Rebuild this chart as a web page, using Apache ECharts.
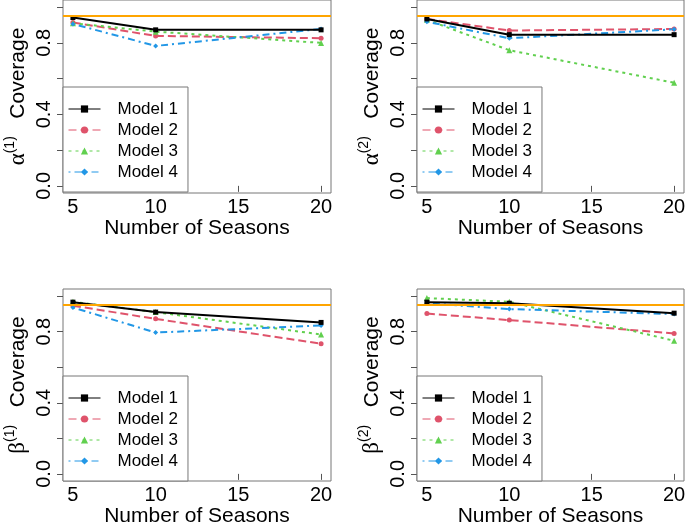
<!DOCTYPE html>
<html>
<head>
<meta charset="utf-8">
<script src="https://cdn.jsdelivr.net/npm/echarts@6/dist/echarts.min.js"></script>
<style>
html,body{margin:0;padding:0;background:#fff;}
#chart{width:685px;height:522px;}
</style>
</head>
<body>
<div id="chart"></div>
<script>
// ---- data ----
const seasons = [5, 10, 20];
const modelNames = ['Model 1', 'Model 2', 'Model 3', 'Model 4'];
const xTicks = [5, 10, 15, 20];
const yTicks = [0, 0.2, 0.4, 0.6, 0.8, 1.0];
const yTickLabels = [0, 0.4, 0.8];
const nominalLevel = 0.95;
const xAxisTitle = 'Number of Seasons';
const yAxisWord = 'Coverage';

const alpha1Model1 = [0.942, 0.873, 0.873];
const alpha1Model2 = [0.914, 0.839, 0.826];
const alpha1Model3 = [0.910, 0.863, 0.800];
const alpha1Model4 = [0.906, 0.783, 0.878];

const alpha2Model1 = [0.934, 0.846, 0.846];
const alpha2Model2 = [0.934, 0.869, 0.878];
const alpha2Model3 = [0.929, 0.759, 0.577];
const alpha2Model4 = [0.918, 0.826, 0.876];

const beta1Model1 = [0.966, 0.910, 0.852];
const beta1Model2 = [0.946, 0.872, 0.732];
const beta1Model3 = [0.968, 0.910, 0.784];
const beta1Model4 = [0.936, 0.795, 0.835];

const beta2Model1 = [0.966, 0.960, 0.904];
const beta2Model2 = [0.902, 0.865, 0.790];
const beta2Model3 = [0.989, 0.968, 0.749];
const beta2Model4 = [0.960, 0.927, 0.899];

const panelGreek = ['α', 'α', 'β', 'β'];
const panelSup = ['(1)', '(2)', '(1)', '(2)'];
const panelSeries = [
  [alpha1Model1, alpha1Model2, alpha1Model3, alpha1Model4],
  [alpha2Model1, alpha2Model2, alpha2Model3, alpha2Model4],
  [beta1Model1, beta1Model2, beta1Model3, beta1Model4],
  [beta2Model1, beta2Model2, beta2Model3, beta2Model4]
];

// ---- styles ----
const FONT = 'Liberation Sans';
const colors = ['#000000', '#DF536B', '#61D04F', '#2297E6'];
const symbols = ['rect', 'circle', 'triangle', 'diamond'];
const dashes = ['solid', [8, 4], [3, 4], [2, 4, 7, 4]];
const grids = [
  { left: 63, top: 0, width: 268, height: 193 },
  { left: 417, top: 0, width: 267, height: 193 },
  { left: 63, top: 289, width: 268, height: 192 },
  { left: 417, top: 289, width: 267, height: 192 }
];

const option = {
  animation: false,
  backgroundColor: '#fff',
  textStyle: { fontFamily: FONT },
  grid: grids.map(g => Object.assign({
    show: true, borderColor: '#777', borderWidth: 1, backgroundColor: 'transparent',
    containLabel: false, outerBoundsMode: 'none'
  }, g)),
  xAxis: grids.map((g, i) => ({
    gridIndex: i, type: 'value', min: 4.4, max: 20.6,
    axisLine: { show: false },
    splitLine: { show: false },
    axisTick: { show: true, customValues: xTicks, length: 6, lineStyle: { color: '#555' } },
    axisLabel: { customValues: xTicks, fontSize: 20, color: '#000', margin: 4, fontFamily: FONT },
    name: xAxisTitle, nameLocation: 'middle', nameGap: 23,
    nameTextStyle: { fontSize: 21, color: '#000', fontFamily: FONT }
  })),
  yAxis: grids.map((g, i) => ({
    gridIndex: i, type: 'value', min: -0.04, max: 1.04,
    axisLine: { show: false },
    splitLine: { show: false },
    axisTick: { show: true, customValues: yTicks, length: 6, lineStyle: { color: '#555' } },
    axisLabel: { customValues: yTickLabels, rotate: 90, fontSize: 20, color: '#000', margin: 9, fontFamily: FONT,
      formatter: v => Number(v).toFixed(1) },
    name: '{g|' + panelGreek[i] + '}{s|' + panelSup[i] + '}{t|   ' + yAxisWord + '}',
    nameLocation: 'middle', nameGap: 30,
    nameTextStyle: {
      color: '#000', fontSize: 21,
      rich: {
        g: { fontSize: 23, lineHeight: 30, fontFamily: 'Liberation Serif', color: '#000' },
        s: { fontSize: 14, lineHeight: 14, verticalAlign: 'top', fontFamily: FONT, color: '#000' },
        t: { fontSize: 21, lineHeight: 30, fontFamily: FONT, color: '#000' }
      }
    }
  })),
  legend: grids.map((g, i) => ({
    data: modelNames,
    orient: 'vertical',
    left: g.left, top: g.top + 87,
    padding: [12, 10, 10, 5],
    itemWidth: 32, itemHeight: 9, itemGap: 1,
    borderColor: '#777', borderWidth: 1, backgroundColor: '#fff',
    selectedMode: false,
    lineStyle: { width: 1 },
    textStyle: { fontSize: 17, color: '#000', lineHeight: 20, padding: [0, 0, 0, 12], fontFamily: FONT }
  })),
  series: []
};

panelSeries.forEach((models, p) => {
  models.forEach((vals, m) => {
    const s = {
      type: 'line', name: modelNames[m],
      xAxisIndex: p, yAxisIndex: p,
      data: seasons.map((x, j) => [x, vals[j]]),
      symbol: symbols[m], symbolSize: m === 2 ? 6 : 5,
      itemStyle: { color: colors[m] },
      lineStyle: { color: colors[m], width: 2, type: dashes[m] },
      z: 3 + (m === 0 ? 1 : 0)
    };
    if (m === 0) {
      s.markLine = {
        silent: true, symbol: 'none', label: { show: false },
        lineStyle: { color: '#FFA500', width: 2, type: 'solid' },
        data: [{ yAxis: nominalLevel }]
      };
    }
    option.series.push(s);
  });
});

const chart = echarts.init(document.getElementById('chart'));
chart.setOption(option);
</script>
</body>
</html>
